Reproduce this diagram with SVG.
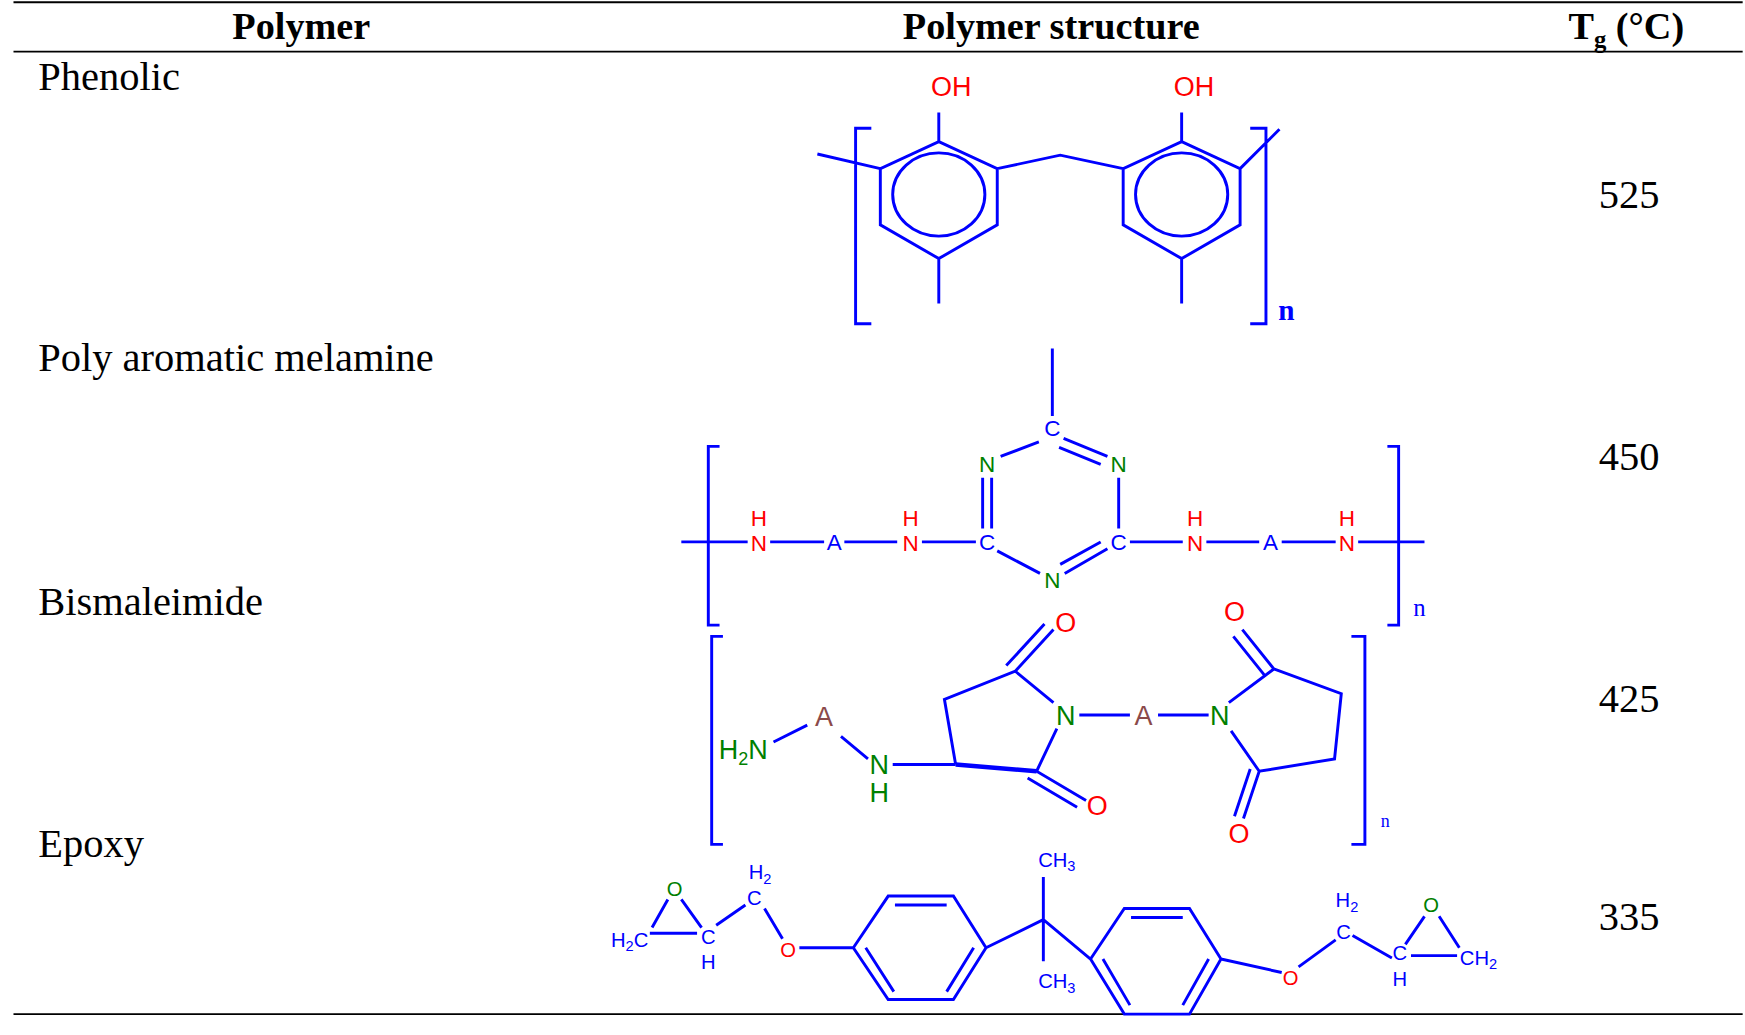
<svg xmlns="http://www.w3.org/2000/svg" width="1745" height="1035" viewBox="0 0 1745 1035">
<style>
.s{stroke:#0000ff;stroke-width:2.6;fill:none}
.r{stroke:#000;stroke-width:1.6}
.h{font-family:"Liberation Serif",serif;font-size:34px;font-weight:bold;fill:#000}
.t{font-family:"Liberation Serif",serif;font-size:36px;fill:#000}
.a{font-family:"Liberation Sans",sans-serif;text-anchor:middle}
.b{fill:#0000ff}.rd{fill:#ff0000}.g{fill:#008000}.br{fill:#8b4a4a}
</style>
<rect width="1745" height="1035" fill="#fff"/>
<g transform="scale(1.1243)">
<g id="table">
<line class="r" x1="12" y1="2" x2="1550" y2="2"/>
<line class="r" x1="12" y1="46" x2="1550" y2="46"/>
<line class="r" x1="12" y1="902" x2="1550" y2="902"/>
<text class="h" x="268" y="35" text-anchor="middle">Polymer</text>
<text class="h" x="935" y="35" text-anchor="middle">Polymer structure</text>
<text class="h" x="1395" y="35">T<tspan font-size="22" dy="8">g</tspan><tspan dy="-8"> (°C)</tspan></text>
<text class="t" x="34" y="80">Phenolic</text>
<text class="t" x="34" y="330">Poly aromatic melamine</text>
<text class="t" x="34" y="547">Bismaleimide</text>
<text class="t" x="34" y="762">Epoxy</text>
<text class="t" x="1449" y="185" text-anchor="middle">525</text>
<text class="t" x="1449" y="418" text-anchor="middle">450</text>
<text class="t" x="1449" y="633" text-anchor="middle">425</text>
<text class="t" x="1449" y="827" text-anchor="middle">335</text>
</g>
<g id="phenolic">
<path class="s" d="M835,126 L887,150 L887,200 L835,230 L783,200 L783,150 Z M835,126 V100 M783,150 L727,137 M835,230 V270 M887,150 L943,138 L999,150 M1051,126 L1103,150 L1103,200 L1051,230 L999,200 L999,150 Z M1051,126 V100 M1103,150 L1138,115 M1051,230 V270 M775,114 H761 V288 H775 M1112,114 H1126 V288 H1112"/>
<ellipse class="s" cx="835" cy="173" rx="41" ry="37"/>
<ellipse class="s" cx="1051" cy="173" rx="41" ry="37"/>
<text class="a rd" x="846" y="85" font-size="24">OH</text>
<text class="a rd" x="1062" y="85" font-size="24">OH</text>
<text x="1137" y="285" font-family="Liberation Serif,serif" font-size="26" font-weight="bold" fill="#0000ff">n</text>
</g>
<g id="melamine" font-size="20">
<path class="s" d="M936,310 V370 M924,393 L890,406 M946,390 L985,406 M942,398 L979,413 M874,425 V470 M882,425 V470 M995,425 V470 M887,490 L925,510 M947,510 L985,488 M943,502 L979,482 M606,482 H665 M685,482 H733 M751,482 H798 M820,482 H868 M1005,482 H1052 M1073,482 H1120 M1140,482 H1188 M1208,482 H1267 M640,397 H630 V556 H640 M1234,397 H1244 V556 H1234"/>
<text class="a b" x="936" y="388">C</text>
<text class="a g" x="878" y="420">N</text>
<text class="a g" x="995" y="420">N</text>
<text class="a b" x="878" y="489">C</text>
<text class="a b" x="995" y="489">C</text>
<text class="a g" x="936" y="523">N</text>
<text class="a rd" x="675" y="490">N</text><text class="a rd" x="675" y="468">H</text>
<text class="a b" x="742" y="489">A</text>
<text class="a rd" x="810" y="490">N</text><text class="a rd" x="810" y="468">H</text>
<text class="a rd" x="1063" y="490">N</text><text class="a rd" x="1063" y="468">H</text>
<text class="a b" x="1130" y="489">A</text>
<text class="a rd" x="1198" y="490">N</text><text class="a rd" x="1198" y="468">H</text>
<text x="1257" y="548" font-family="Liberation Serif,serif" font-size="22" fill="#0000ff">n</text>
</g>
<g id="bismaleimide" font-size="24">
<path class="s" d="M688,660 L718,645 M748,655 L772,675 M794,680 H850 M850,680 L840,622 L903,597 L937,625 M903,597 L937,560 M895,592 L929,555 M940,648 L922,686 L966,712 M914,692 L958,718 M960,636 H1005 M1030,636 H1075 M1093,625 L1133,595 L1193,617 L1187,675 L1120,686 L1095,650 M1133,595 L1105,560 M1125,601 L1097,566 M1120,686 L1106,728 M1112,684 L1098,726 M643,566 H633 V751 H643 M1202,566 H1214 V751 H1202"/>
<path d="M850,680 L922,686" stroke="#0000ff" stroke-width="4"/>
<text class="a g" x="661" y="675">H<tspan font-size="16" dy="5">2</tspan><tspan dy="-5">N</tspan></text>
<text class="a br" x="733" y="646">A</text>
<text class="a g" x="782" y="688">N</text><text class="a g" x="782" y="713">H</text>
<text class="a rd" x="948" y="562">O</text>
<text class="a g" x="948" y="645">N</text>
<text class="a rd" x="976" y="725">O</text>
<text class="a br" x="1017" y="645">A</text>
<text class="a g" x="1085" y="645">N</text>
<text class="a rd" x="1098" y="552">O</text>
<text class="a rd" x="1102" y="750">O</text>
<text x="1228" y="736" font-family="Liberation Serif,serif" font-size="16" fill="#0000ff">n</text>
</g>
<g id="epoxy" font-size="18">
<path class="s" d="M578,830 H620 M594,800 L580,825 M606,800 L624,825 M637,823 L663,805 M680,808 L696,835 M711,843 H759 M759,843 L790,797 L848,797 L877,843 L848,889 L790,889 Z M796,805 H842 M866,843 L842,882 M770,843 L795,882 M877,843 L928,818 M928,818 V780 M928,818 V855 M928,818 L970,853 M970,853 L1000,808 L1058,808 L1086,853 L1058,902 L1000,902 Z M1006,816 H1052 M1075,853 L1052,894 M981,853 L1005,894 M1086,853 L1140,865 M1155,860 L1188,836 M1203,832 L1238,852 M1250,840 L1267,815 M1280,815 L1298,843 M1255,850 H1296"/>
<text class="a g" x="600" y="797">O</text>
<text class="a b" x="560" y="842">H<tspan font-size="13" dy="4">2</tspan><tspan dy="-4">C</tspan></text>
<text class="a b" x="630" y="840">C</text><text class="a b" x="630" y="862">H</text>
<text class="a b" x="676" y="782">H<tspan font-size="13" dy="4">2</tspan></text>
<text class="a b" x="671" y="805">C</text>
<text class="a rd" x="701" y="851">O</text>
<text class="a b" x="940" y="771">CH<tspan font-size="13" dy="4">3</tspan></text>
<text class="a b" x="940" y="879">CH<tspan font-size="13" dy="4">3</tspan></text>
<text class="a rd" x="1148" y="876">O</text>
<text class="a b" x="1198" y="807">H<tspan font-size="13" dy="4">2</tspan></text>
<text class="a b" x="1195" y="835">C</text>
<text class="a b" x="1245" y="854">C</text><text class="a b" x="1245" y="877">H</text>
<text class="a g" x="1273" y="811">O</text>
<text class="a b" x="1315" y="858">CH<tspan font-size="13" dy="4">2</tspan></text>
</g>
</g>
</svg>
